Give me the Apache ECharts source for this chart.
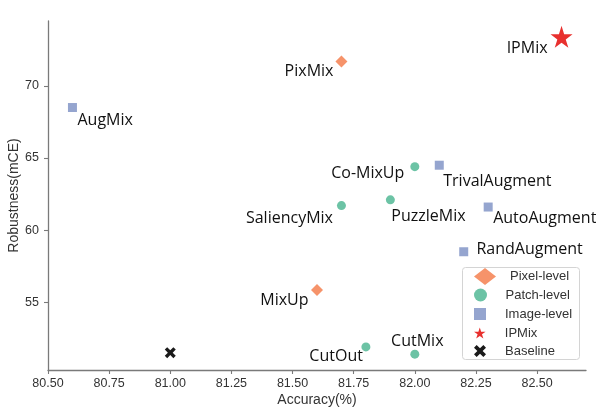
<!DOCTYPE html>
<html>
<head>
<meta charset="utf-8">
<script src="https://cdn.jsdelivr.net/npm/echarts@6/dist/echarts.min.js"></script>
<style>
html,body{margin:0;padding:0;background:#fff;}
#chart{width:596px;height:412px;}
</style>
</head>
<body>
<div id="chart"></div>
<script>
// ---- data ----
const pixelNames = ['PixMix', 'MixUp'];
const pixelAcc = [81.7, 81.6];
const pixelRob = [71.7, 55.85];

const patchNames = ['Co-MixUp', 'SaliencyMix', 'PuzzleMix', 'CutOut', 'CutMix'];
const patchAcc = [82.0, 81.7, 81.9, 81.8, 82.0];
const patchRob = [64.4, 61.7, 62.1, 51.9, 51.4];

const imageNames = ['AugMix', 'TrivalAugment', 'AutoAugment', 'RandAugment'];
const imageAcc = [80.6, 82.1, 82.3, 82.2];
const imageRob = [68.5, 64.5, 61.6, 58.5];

const ipmixNames = ['IPMix'];
const ipmixAcc = [82.6];
const ipmixRob = [73.4];

const baselineNames = ['Baseline'];
const baselineAcc = [81.0];
const baselineRob = [51.5];

const legendNames = ['Pixel-level', 'Patch-level', 'Image-level', 'IPMix', 'Baseline'];
const xTicks = [80.5, 80.75, 81.0, 81.25, 81.5, 81.75, 82.0, 82.25, 82.5];
const yTicks = [55, 60, 65, 70];

// ---- label placement (style, not data) ----
const labelPlace = {
  'PixMix': ['right', -8, 10],
  'MixUp': ['right', -8.5, 10.5],
  'Co-MixUp': ['right', -10.5, 6.5],
  'SaliencyMix': ['right', -8.5, 12.5],
  'PuzzleMix': ['left', 1, 17],
  'CutOut': ['right', -3, 10],
  'CutMix': ['center', 2.5, -12.3],
  'AugMix': ['left', 5, 13],
  'TrivalAugment': ['left', 4, 16],
  'AutoAugment': ['left', 5, 11],
  'RandAugment': ['left', 12.7, -2.7],
  'IPMix': ['right', -14, 11.5]
};

const STAR = 'path://M50,0 L61.23,34.55 L97.55,34.55 L68.16,55.9 L79.39,90.45 L50,69.1 L20.61,90.45 L31.84,55.9 L2.45,34.55 L38.77,34.55 Z';
const XMARK = 'path://M0,2.2 L2.2,0 L5,2.8 L7.8,0 L10,2.2 L7.2,5 L10,7.8 L7.8,10 L5,7.2 L2.2,10 L0,7.8 L2.8,5 Z';
const SQUARE = 'path://M0,0 L10,0 L10,10 L0,10 Z';
const DIAMOND_WIDE = 'path://M11,0 L22,8.5 L11,17 L0,8.5 Z';

const colors = {
  pixel: '#f6936a',
  patch: '#6cc3a5',
  image: '#95a5cf',
  ipmix: '#e8302e',
  base: '#1a1a1a'
};

function buildData(names, xs, ys, withLabel) {
  return names.map((n, i) => {
    const d = { name: n, value: [xs[i], ys[i]] };
    if (withLabel && labelPlace[n]) {
      const p = labelPlace[n];
      d.label = {
        show: true,
        position: 'inside',
        align: p[0],
        verticalAlign: 'middle',
        offset: [p[1], p[2]],
        formatter: n
      };
    }
    return d;
  });
}

const labelStyle = {
  show: false,
  color: '#111',
  fontFamily: 'Open Sans',
  fontSize: 16,
  textBorderWidth: 0
};

const chart = echarts.init(document.getElementById('chart'), null, { renderer: 'canvas' });

const axisColor = '#7a7a7a';
const tickFont = { color: '#333', fontFamily: 'Liberation Sans', fontSize: 12.5 };

function oneLegend(name, icon, h, centerY) {
  return {
    data: [{ name: name, icon: icon }],
    left: 474,
    top: centerY - h / 2,
    padding: 0,
    itemWidth: 32,
    itemHeight: h,
    itemGap: 0,
    symbolKeepAspect: true,
    selectedMode: false,
    textStyle: { color: '#333', fontFamily: 'Liberation Sans', fontSize: 13, padding: [0, 0, 0, 4] }
  };
}

const option = {
  animation: false,
  backgroundColor: '#fff',
  grid: { left: 48, right: 10, top: 21, bottom: 42, containLabel: false, outerBoundsMode: 'none' },
  xAxis: {
    type: 'value',
    min: 80.5,
    max: 82.7,
    name: 'Accuracy(%)',
    nameLocation: 'middle',
    nameGap: 23,
    nameMoveOverlap: false,
    nameTextStyle: { color: '#333', fontFamily: 'Liberation Sans', fontSize: 14 },
    axisLine: { show: true, onZero: false, lineStyle: { color: axisColor, width: 1.3 } },
    axisTick: { show: true, length: 4, lineStyle: { color: axisColor, width: 1.1 }, customValues: xTicks },
    axisLabel: Object.assign({ margin: 7, customValues: xTicks, formatter: v => Number(v).toFixed(2) }, tickFont),
    splitLine: { show: false }
  },
  yAxis: {
    type: 'value',
    min: 50.3,
    max: 74.5,
    name: 'Robustness(mCE)',
    nameLocation: 'middle',
    nameGap: 27,
    nameMoveOverlap: false,
    nameTextStyle: { color: '#333', fontFamily: 'Liberation Sans', fontSize: 14 },
    axisLine: { show: true, onZero: false, lineStyle: { color: axisColor, width: 1.3 } },
    axisTick: { show: true, length: 4, lineStyle: { color: axisColor, width: 1.1 }, customValues: yTicks },
    axisLabel: Object.assign({ margin: 9, customValues: yTicks, formatter: v => String(v) }, tickFont),
    splitLine: { show: false }
  },
  legend: [
    oneLegend(legendNames[0], DIAMOND_WIDE, 17, 276.5),
    oneLegend(legendNames[1], 'circle', 13, 295),
    oneLegend(legendNames[2], SQUARE, 12, 313.5),
    oneLegend(legendNames[3], STAR, 11, 332),
    oneLegend(legendNames[4], XMARK, 12, 350.5)
  ],
  graphic: [{
    type: 'rect',
    left: 462,
    top: 267,
    z: 0,
    shape: { width: 117, height: 92, r: 3 },
    style: { fill: 'rgba(255,255,255,0.9)', stroke: '#d4d4d4', lineWidth: 1 }
  }],
  series: [
    {
      name: legendNames[0], type: 'scatter', symbol: 'diamond', symbolSize: [12, 12],
      itemStyle: { color: colors.pixel, opacity: 1 },
      label: labelStyle,
      data: buildData(pixelNames, pixelAcc, pixelRob, true)
    },
    {
      name: legendNames[1], type: 'scatter', symbol: 'circle', symbolSize: 9,
      itemStyle: { color: colors.patch, opacity: 1 },
      label: labelStyle,
      data: buildData(patchNames, patchAcc, patchRob, true)
    },
    {
      name: legendNames[2], type: 'scatter', symbol: 'rect', symbolSize: 9,
      itemStyle: { color: colors.image, opacity: 1 },
      label: labelStyle,
      data: buildData(imageNames, imageAcc, imageRob, true)
    },
    {
      name: legendNames[3], type: 'scatter', symbol: STAR, symbolSize: 22,
      itemStyle: { color: colors.ipmix, opacity: 1 },
      label: labelStyle,
      data: buildData(ipmixNames, ipmixAcc, ipmixRob, true)
    },
    {
      name: legendNames[4], type: 'scatter', symbol: XMARK, symbolSize: 11,
      itemStyle: { color: colors.base, opacity: 1 },
      label: labelStyle,
      data: buildData(baselineNames, baselineAcc, baselineRob, false)
    }
  ]
};

chart.setOption(option);
</script>
</body>
</html>
